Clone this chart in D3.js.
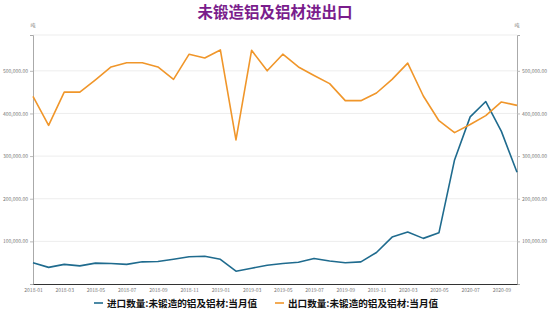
<!DOCTYPE html>
<html>
<head>
<meta charset="utf-8">
<script src="https://cdn.jsdelivr.net/npm/d3@7"></script>
<style>
  body { margin: 0; background: #fff; }
  svg { display: block; }
</style>
</head>
<body>
<div id="chart"></div>
<script>
// 月份（2020-01、2020-02 合并公布，无单独数据）
var months = ["2018-01","2018-02","2018-03","2018-04","2018-05","2018-06","2018-07","2018-08","2018-09","2018-10","2018-11","2018-12",
  "2019-01","2019-02","2019-03","2019-04","2019-05","2019-06","2019-07","2019-08","2019-09","2019-10","2019-11","2019-12",
  "2020-03","2020-04","2020-05","2020-06","2020-07","2020-08","2020-09","2020-10"];
var importVals = [49600, 39000, 46000, 42500, 49000, 48000, 46000, 52000, 52700, 58000, 64000, 65000,
  58000, 30000, 37000, 44000, 48000, 51000, 60000, 54000, 50000, 52000, 74000, 110000,
  122000, 107000, 120000, 291000, 392000, 428000, 358000, 262000];
var exportVals = [440000, 372000, 450000, 450000, 479000, 509000, 519000, 519000, 509000, 480000, 539000, 530000,
  549000, 338000, 548000, 500000, 539000, 509000, 489000, 470000, 430000, 430000, 448000, 480000,
  518000, 441000, 383000, 355000, 374000, 395000, 427000, 419000];
var yTicks = [100000, 200000, 300000, 400000, 500000];
var seriesNames = ["进口数量:未锻造的铝及铝材:当月值", "出口数量:未锻造的铝及铝材:当月值"];
var colors = ["#1f6b8e", "#f0962a"];

var width = 550, height = 315;
var margin = { top: 35, right: 33, bottom: 31, left: 33 };
var font = "Noto Sans CJK SC, Noto Sans, sans-serif";

var svg = d3.select("#chart").append("svg")
  .attr("width", width)
  .attr("height", height);

var x = d3.scalePoint()
  .domain(months)
  .range([margin.left, width - margin.right]);
var y = d3.scaleLinear()
  .domain([0, 584000])
  .range([height - margin.bottom, margin.top]);

// 标题
svg.append("text")
  .attr("x", width / 2)
  .attr("y", 18)
  .attr("text-anchor", "middle")
  .attr("font-family", font)
  .attr("font-size", "15.5px")
  .attr("font-weight", "bold")
  .attr("fill", "#7a1d8c")
  .text("未锻造铝及铝材进出口");

// 网格线
svg.append("g")
  .selectAll("line")
  .data(yTicks.concat([584000]))
  .enter().append("line")
  .attr("x1", margin.left)
  .attr("x2", width - margin.right)
  .attr("y1", d => y(d))
  .attr("y2", d => y(d))
  .attr("stroke", "#e8e8e8")
  .attr("stroke-width", 0.8);

var fmt = d3.format(",.2f");

var leftAxis = svg.append("g")
  .attr("transform", "translate(" + margin.left + ",0)")
  .call(d3.axisLeft(y).tickValues(yTicks).tickFormat(fmt).tickSize(3).tickPadding(2));
var rightAxis = svg.append("g")
  .attr("transform", "translate(" + (width - margin.right) + ",0)")
  .call(d3.axisRight(y).tickValues(yTicks).tickFormat(fmt).tickSize(3).tickPadding(2));

[leftAxis, rightAxis].forEach(function (g) {
  g.select(".domain").attr("stroke", "#aaa").attr("stroke-width", 1);
  g.selectAll(".tick line").attr("stroke", "#bbb");
  g.selectAll("text")
    .attr("font-family", font)
    .attr("font-size", "5px")
    .attr("fill", "#777");
});

var xAxis = svg.append("g")
  .attr("transform", "translate(0," + (height - margin.bottom) + ")")
  .call(d3.axisBottom(x)
    .tickValues(months.filter((d, i) => i % 2 == 0))
    .tickSize(0)
    .tickPadding(4));
xAxis.select(".domain").attr("stroke", "#333").attr("stroke-width", 1.2);
xAxis.selectAll("text")
  .attr("font-family", font)
  .attr("font-size", "5px")
  .attr("fill", "#777");

// 单位
[margin.left, width - margin.right].forEach(function (px) {
  svg.append("text")
    .attr("x", px)
    .attr("y", 27)
    .attr("text-anchor", "middle")
    .attr("font-family", font)
    .attr("font-size", "5px")
    .attr("fill", "#777")
    .text("吨");
});

var line = d3.line()
  .x((d, i) => x(months[i]))
  .y(d => y(d));

[importVals, exportVals].forEach(function (vals, k) {
  svg.append("path")
    .datum(vals)
    .attr("fill", "none")
    .attr("stroke", colors[k])
    .attr("stroke-width", 1.6)
    .attr("stroke-linejoin", "round")
    .attr("d", line);
});

// 图例
var legend = svg.append("g");
var lx = [94, 275];
seriesNames.forEach(function (name, k) {
  legend.append("line")
    .attr("x1", lx[k])
    .attr("x2", lx[k] + 9)
    .attr("y1", 303)
    .attr("y2", 303)
    .attr("stroke", colors[k])
    .attr("stroke-width", 1.6);
  legend.append("text")
    .attr("x", lx[k] + 13)
    .attr("y", 306.5)
    .attr("font-family", font)
    .attr("font-size", "9.6px")
    .attr("font-weight", "bold")
    .attr("fill", "#111")
    .text(name);
});
</script>
</body>
</html>
